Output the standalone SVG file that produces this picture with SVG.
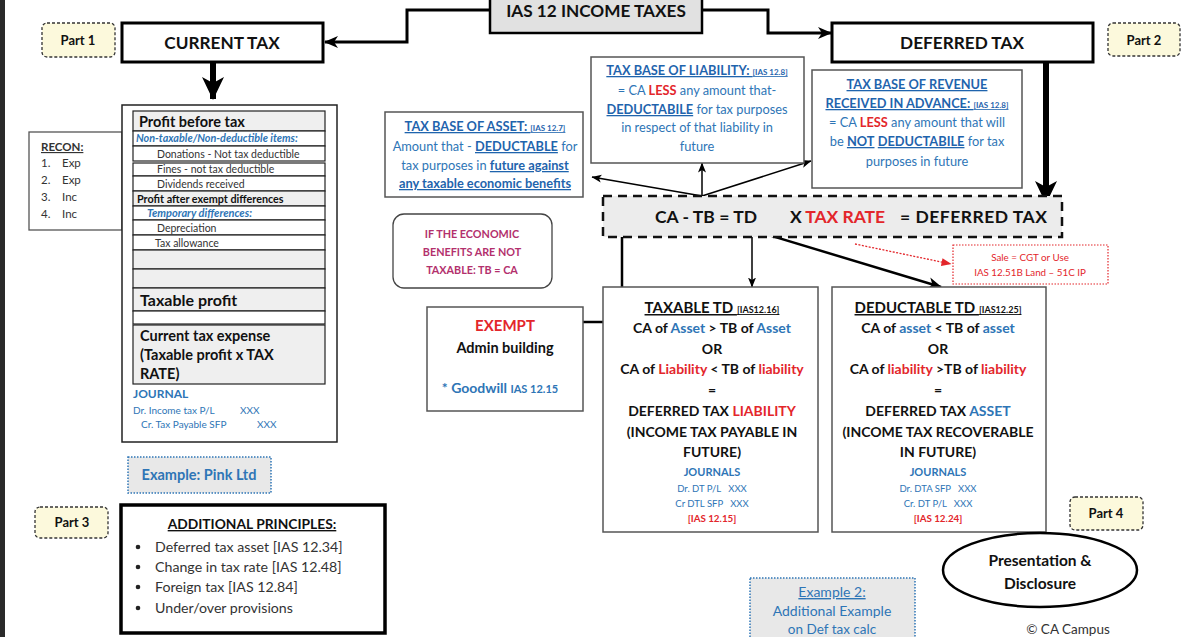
<svg xmlns="http://www.w3.org/2000/svg" width="1200" height="637" viewBox="0 0 1200 637">
<style>
text{font-family:Lato,"Open Sans","Liberation Sans",sans-serif;fill:#111}
.b{font-weight:bold}
.i{font-style:italic}
.m{text-anchor:middle}
.u{text-decoration:underline}
.blue{fill:#2e75b6}
.dblue{fill:#1f64ad}
.red{fill:#e3262b}
.grey{fill:#333}
.pink{fill:#b3306d}
.part{fill:#fcf9dc;stroke:#333;stroke-width:1.3;stroke-dasharray:3 2}
.box{fill:#fff;stroke:#555;stroke-width:1.5}
.thick{fill:#fff;stroke:#000;stroke-width:3}
.row{stroke:#222;stroke-width:1.2}
.conn{fill:none;stroke:#000}
.rconn{fill:none;stroke:#e3262b;stroke-width:1.3;stroke-dasharray:2 1.5}
</style>
<defs>
<marker id="ah" markerUnits="userSpaceOnUse" markerWidth="14" markerHeight="14" viewBox="0 0 14 14" refX="13" refY="7" orient="auto"><path d="M0,1 L14,7 L0,13 L4,7 Z" fill="#000"/></marker>
<marker id="ahs" markerUnits="userSpaceOnUse" markerWidth="10" markerHeight="10" viewBox="0 0 10 10" refX="9.5" refY="5" orient="auto"><path d="M0,1 L10,5 L0,9 L2.5,5 Z" fill="#000"/></marker>
<marker id="ahb" markerUnits="userSpaceOnUse" markerWidth="24" markerHeight="24" viewBox="0 0 24 24" refX="22" refY="12" orient="auto"><path d="M0,1 L23,12 L0,23 L6,12 Z" fill="#000"/></marker>
<marker id="ahr" markerUnits="userSpaceOnUse" markerWidth="10" markerHeight="10" viewBox="0 0 10 10" refX="9.5" refY="5" orient="auto"><path d="M0,1 L10,5 L0,9 Z" fill="#e3262b"/></marker>
</defs>
<rect x="0" y="0" width="1200" height="637" fill="#fff"/>
<rect x="0" y="0" width="5" height="637" fill="#2a2a2a"/>

<g id="connectors">
<path class="conn" d="M490,10 H407 V42 H325" stroke-width="3" marker-end="url(#ah)"/>
<path class="conn" d="M702,10 H768 V33 H831" stroke-width="3" marker-end="url(#ah)"/>
<path class="conn" d="M213,63 V99" stroke-width="6" marker-end="url(#ahb)"/>
<path class="conn" d="M1046,63 V203" stroke-width="6" marker-end="url(#ahb)"/>
<path class="conn" d="M702,196 L592,177" stroke-width="1.5" marker-end="url(#ahs)"/>
<path class="conn" d="M702,196 V163" stroke-width="1.5" marker-end="url(#ahs)"/>
<path class="conn" d="M702,196 L811,161" stroke-width="1.5" marker-end="url(#ahs)"/>
<path class="conn" d="M752,230 H622 V322 H553" stroke-width="2.5" marker-end="url(#ah)"/>
<path class="conn" d="M752,230 V287" stroke-width="1.5" marker-end="url(#ahs)"/>
<path class="conn" d="M752,230 L941,287" stroke-width="2.5" marker-end="url(#ah)"/>
<path class="rconn" d="M855,244 L951,264" marker-end="url(#ahr)"/>
</g>

<g id="title">
<rect x="490" y="-3" width="212" height="36" fill="#e1e1e1" stroke="#000" stroke-width="2.5"/>
<text x="596" y="17" class="b m" font-size="17.2">IAS 12 INCOME TAXES</text>
</g>

<g id="part1">
<rect class="part" x="42" y="23" width="73" height="34" rx="5"/>
<text x="78" y="45" class="b m" font-size="13">Part 1</text>
</g>
<g id="part2">
<rect class="part" x="1108" y="23" width="72" height="33" rx="5"/>
<text x="1144" y="45" class="b m" font-size="13">Part 2</text>
</g>
<g id="part3">
<rect class="part" x="35" y="507" width="73" height="31" rx="5"/>
<text x="72" y="527" class="b m" font-size="13">Part 3</text>
</g>
<g id="part4">
<rect class="part" x="1070" y="497" width="73" height="33" rx="5"/>
<text x="1106" y="518" class="b m" font-size="13">Part 4</text>
</g>

<g id="current-tax">
<rect class="thick" x="122" y="23" width="201" height="39"/>
<text x="222" y="49" class="b m" font-size="17.2">CURRENT TAX</text>
</g>

<g id="deferred-tax">
<rect class="thick" x="832" y="23" width="261" height="39"/>
<text x="962" y="49" class="b m" font-size="17.2">DEFERRED TAX</text>
</g>

<g id="recon">
<rect x="29" y="132" width="93" height="98" fill="#fff" stroke="#555" stroke-width="1.3"/>
<text x="41" y="151" class="b u grey" font-size="11.5">RECON:</text>
<text x="41" y="167" class="grey" font-size="11.5">1.</text><text x="62" y="167" class="grey" font-size="11.5">Exp</text>
<text x="41" y="184" class="grey" font-size="11.5">2.</text><text x="62" y="184" class="grey" font-size="11.5">Exp</text>
<text x="41" y="201" class="grey" font-size="11.5">3.</text><text x="62" y="201" class="grey" font-size="11.5">Inc</text>
<text x="41" y="218" class="grey" font-size="11.5">4.</text><text x="62" y="218" class="grey" font-size="11.5">Inc</text>
</g>

<g id="current-tax-table">
<rect x="122" y="105" width="215" height="337" fill="#fff" stroke="#222" stroke-width="1.5"/>
<rect class="row" x="133" y="111" width="192" height="20" fill="#efefef"/>
<rect class="row" x="133" y="131" width="192" height="15" fill="#fff"/>
<rect class="row" x="133" y="146" width="192" height="15" fill="#fff"/>
<rect class="row" x="133" y="163" width="192" height="13" fill="#fff"/>
<rect class="row" x="133" y="176" width="192" height="15" fill="#fff"/>
<rect class="row" x="133" y="191" width="192" height="15" fill="#efefef"/>
<rect class="row" x="133" y="206" width="192" height="14" fill="#fff"/>
<rect class="row" x="133" y="220" width="192" height="15" fill="#fff"/>
<rect class="row" x="133" y="235" width="192" height="15" fill="#fff"/>
<rect class="row" x="133" y="250" width="192" height="19" fill="#efefef"/>
<rect class="row" x="133" y="269" width="192" height="19" fill="#efefef"/>
<rect class="row" x="133" y="288" width="192" height="23" fill="#efefef"/>
<rect class="row" x="133" y="311" width="192" height="13" fill="#fff"/>
<rect class="row" x="133" y="325" width="192" height="59" fill="#efefef" stroke-width="1.6"/>
<text x="139" y="127" class="b" font-size="14.5">Profit before tax</text>
<text x="136" y="142" class="b i blue" font-size="10.8">Non-taxable/Non-deductible items:</text>
<text x="157" y="157.5" class="grey" font-size="10.5">Donations - Not tax deductible</text>
<text x="157" y="173" class="grey" font-size="10.5">Fines - not tax deductible</text>
<text x="157" y="187.5" class="grey" font-size="10.5">Dividends received</text>
<text x="137" y="202.5" class="b" font-size="10.8">Profit after exempt differences</text>
<text x="147" y="216.5" class="b i blue" font-size="11">Temporary differences:</text>
<text x="157" y="231.5" class="grey" font-size="10.5">Depreciation</text>
<text x="155" y="246.5" class="grey" font-size="10.5">Tax allowance</text>
<text x="140" y="306" class="b" font-size="16">Taxable profit</text>
<text x="140" y="341" class="b" font-size="14.5">Current tax expense</text>
<text x="140" y="360" class="b" font-size="14.5">(Taxable profit x TAX</text>
<text x="140" y="379" class="b" font-size="14.5">RATE)</text>
<text x="133" y="398" class="b blue" font-size="12">JOURNAL</text>
<text x="133" y="414" class="blue" font-size="10">Dr. Income tax P/L</text>
<text x="240" y="414" class="blue" font-size="10">XXX</text>
<text x="141" y="428" class="blue" font-size="10">Cr. Tax Payable SFP</text>
<text x="257" y="428" class="blue" font-size="10">XXX</text>
</g>

<g id="example-pink">
<rect x="128" y="457" width="143" height="36" fill="#e8e8e8" stroke="#2e75b6" stroke-width="1.5" stroke-dasharray="1.5 1.5"/>
<text x="199" y="480" class="b m blue" font-size="14.5">Example: Pink Ltd</text>
</g>

<g id="additional-principles">
<rect x="121" y="505" width="264" height="128" fill="#fff" stroke="#000" stroke-width="3.5"/>
<text x="252" y="529" class="b m u" font-size="13.8">ADDITIONAL PRINCIPLES:</text>
<circle cx="138" cy="547" r="2.3" fill="#222"/><text x="155" y="552" class="grey" font-size="14.2">Deferred tax asset [IAS 12.34]</text>
<circle cx="138" cy="567" r="2.3" fill="#222"/><text x="155" y="572" class="grey" font-size="14.2">Change in tax rate [IAS 12.48]</text>
<circle cx="138" cy="587" r="2.3" fill="#222"/><text x="155" y="592" class="grey" font-size="14.2">Foreign tax [IAS 12.84]</text>
<circle cx="138" cy="608" r="2.3" fill="#222"/><text x="155" y="613" class="grey" font-size="14.2">Under/over provisions</text>
</g>

<g id="tax-base-asset">
<rect class="box" x="385" y="112" width="198" height="85"/>
<text x="485" y="131" class="m b u dblue" font-size="12.8">TAX BASE OF ASSET: <tspan font-size="8">[IAS 12.7]</tspan></text>
<text x="485" y="151" class="m blue" font-size="12.8">Amount that - <tspan class="b u dblue">DEDUCTABLE</tspan> for</text>
<text x="485" y="170" class="m blue" font-size="12.8">tax purposes in <tspan class="b u dblue">future against</tspan></text>
<text x="485" y="188" class="m b u dblue" font-size="12.8">any taxable economic benefits</text>
</g>

<g id="tax-base-liability">
<rect class="box" x="591" y="57" width="213" height="106"/>
<text x="697" y="75" class="m b u dblue" font-size="12.8">TAX BASE OF LIABILITY: <tspan font-size="8">[IAS 12.8]</tspan></text>
<text x="697" y="95" class="m blue" font-size="12.8">= CA <tspan class="b red">LESS</tspan> any amount that-</text>
<text x="697" y="114" class="m blue" font-size="12.8"><tspan class="b u dblue">DEDUCTABILE</tspan> for tax purposes</text>
<text x="697" y="132" class="m blue" font-size="12.8">in respect of that liability in</text>
<text x="697" y="151" class="m blue" font-size="12.8">future</text>
</g>

<g id="tax-base-revenue">
<rect class="box" x="812" y="70" width="210" height="118"/>
<text x="917" y="89" class="m b u dblue" font-size="12.8">TAX BASE OF REVENUE</text>
<text x="917" y="108" class="m b u dblue" font-size="12.8">RECEIVED IN ADVANCE: <tspan font-size="8">[IAS 12.8]</tspan></text>
<text x="917" y="127" class="m blue" font-size="12.8">= CA <tspan class="b red">LESS</tspan> any amount that will</text>
<text x="917" y="146" class="m blue" font-size="12.8">be <tspan class="b u dblue">NOT</tspan> <tspan class="b u dblue">DEDUCTABILE</tspan> for tax</text>
<text x="917" y="166" class="m blue" font-size="12.8">purposes in future</text>
</g>

<g id="formula">
<rect x="603" y="196" width="459" height="41" fill="#ececec" stroke="#111" stroke-width="2.5" stroke-dasharray="9 6"/>
<text x="655" y="223" class="b" font-size="17.5" textLength="102" lengthAdjust="spacing">CA - TB = TD</text>
<text x="790" y="223" class="b" font-size="17.5" textLength="95" lengthAdjust="spacing">X <tspan class="red">TAX RATE</tspan></text>
<text x="900" y="223" class="b" font-size="17.5" textLength="147" lengthAdjust="spacing">= DEFERRED TAX</text>
</g>

<g id="sale-note">
<rect x="953" y="245" width="155" height="39" fill="#fff" stroke="#e3262b" stroke-width="1.2" stroke-dasharray="1.5 1.5"/>
<text x="1030" y="261" class="m red" font-size="9.8">Sale = CGT or Use</text>
<text x="1030" y="276" class="m red" font-size="9.8">IAS 12.51B Land – 51C IP</text>
</g>

<g id="not-taxable">
<rect x="393" y="214" width="159" height="74" rx="11" fill="#fff" stroke="#444" stroke-width="1.3"/>
<text x="472" y="238" class="m b pink" font-size="10.8">IF THE ECONOMIC</text>
<text x="472" y="256" class="m b pink" font-size="10.8">BENEFITS ARE NOT</text>
<text x="472" y="274" class="m b pink" font-size="10.8">TAXABLE: TB = CA</text>
</g>

<g id="exempt">
<rect class="box" x="427" y="307" width="156" height="104"/>
<text x="505" y="331" class="m b red" font-size="15">EXEMPT</text>
<text x="505" y="353" class="m b" font-size="14.5">Admin building</text>
<text x="500" y="393" class="m b blue" font-size="14">* Goodwill <tspan font-size="11">IAS 12.15</tspan></text>
</g>

<g id="taxable-td">
<rect class="box" x="603" y="287" width="215" height="245"/>
<text x="712" y="313" class="m b u" font-size="15">TAXABLE TD <tspan font-size="9">[IAS12.16]</tspan></text>
<text x="712" y="333" class="m b" font-size="14">CA of <tspan class="blue">Asset</tspan> &gt; TB of <tspan class="blue">Asset</tspan></text>
<text x="712" y="354" class="m b" font-size="14">OR</text>
<text x="712" y="374" class="m b" font-size="14">CA of <tspan class="red">Liability</tspan> &lt; TB of <tspan class="red">liability</tspan></text>
<text x="712" y="395" class="m b" font-size="14">=</text>
<text x="712" y="416" class="m b" font-size="14">DEFERRED TAX <tspan class="red">LIABILITY</tspan></text>
<text x="712" y="437" class="m b" font-size="14">(INCOME TAX PAYABLE IN</text>
<text x="712" y="457" class="m b" font-size="14">FUTURE)</text>
<text x="712" y="476" class="m b blue" font-size="11">JOURNALS</text>
<text x="712" y="492" class="m blue" font-size="9.5" xml:space="preserve">Dr. DT P/L   XXX</text>
<text x="712" y="507" class="m blue" font-size="9.5" xml:space="preserve">Cr DTL SFP   XXX</text>
<text x="712" y="522" class="m b red" font-size="9.8">[IAS 12.15]</text>
</g>

<g id="deductable-td">
<rect class="box" x="832" y="287" width="214" height="245"/>
<text x="938" y="313" class="m b u" font-size="15">DEDUCTABLE TD <tspan font-size="9">[IAS12.25]</tspan></text>
<text x="938" y="333" class="m b" font-size="14">CA of <tspan class="blue">asset</tspan> &lt; TB of <tspan class="blue">asset</tspan></text>
<text x="938" y="354" class="m b" font-size="14">OR</text>
<text x="938" y="374" class="m b" font-size="14">CA of <tspan class="red">liability</tspan> &gt;TB of <tspan class="red">liability</tspan></text>
<text x="938" y="395" class="m b" font-size="14">=</text>
<text x="938" y="416" class="m b" font-size="14">DEFERRED TAX <tspan class="blue">ASSET</tspan></text>
<text x="938" y="437" class="m b" font-size="14">(INCOME TAX RECOVERABLE</text>
<text x="938" y="457" class="m b" font-size="14">IN FUTURE)</text>
<text x="938" y="476" class="m b blue" font-size="11">JOURNALS</text>
<text x="938" y="492" class="m blue" font-size="9.5" xml:space="preserve">Dr. DTA SFP   XXX</text>
<text x="938" y="507" class="m blue" font-size="9.5" xml:space="preserve">Cr. DT P/L   XXX</text>
<text x="938" y="522" class="m b red" font-size="9.8">[IAS 12.24]</text>
</g>

<g id="presentation">
<ellipse cx="1040" cy="570" rx="97" ry="37" fill="#fff" stroke="#000" stroke-width="2.5"/>
<text x="1040" y="566" class="m b" font-size="15.5">Presentation &amp;</text>
<text x="1040" y="589" class="m b" font-size="15.5">Disclosure</text>
</g>

<g id="example-2">
<rect x="750" y="578" width="165" height="70" fill="#e8e8e8" stroke="#2e75b6" stroke-width="1.5" stroke-dasharray="1.5 1.5"/>
<text x="832" y="597" class="m u blue" font-size="14">Example 2:</text>
<text x="832" y="616" class="m blue" font-size="14">Additional Example</text>
<text x="832" y="634" class="m blue" font-size="13.5">on Def tax calc</text>
</g>

<g id="copyright">
<text x="1068" y="634" class="m grey" font-size="13.5">© CA Campus</text>
</g>
</svg>
